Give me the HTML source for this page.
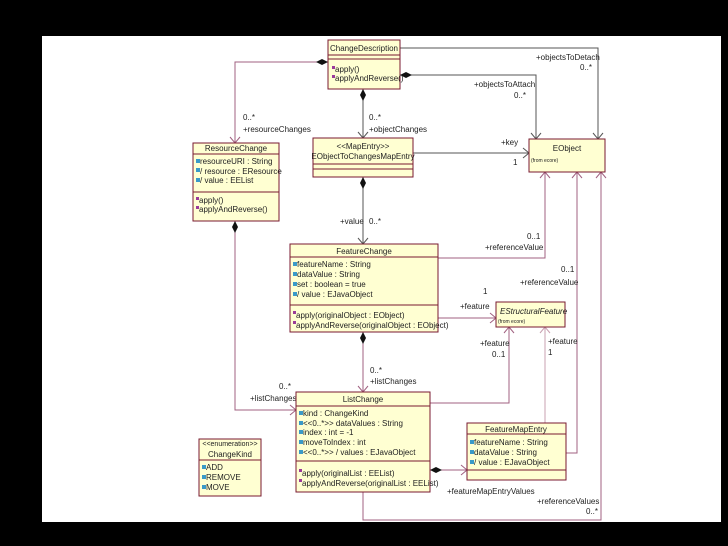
<!DOCTYPE html>
<html><head><meta charset="utf-8"><style>
html,body{margin:0;padding:0;background:#000;}
svg{display:block;}
text{font-family:"Liberation Sans",sans-serif;font-size:8px;fill:#222;}
.t{text-anchor:middle;}
.b{fill:#ffffd2;stroke:#7a1a30;stroke-width:1;}
.s{stroke:#7a1a30;stroke-width:1;}
.l{fill:none;stroke:#555;stroke-width:1;}
.p{fill:none;stroke:#a06080;stroke-width:1;}
.q{fill:none;stroke:#c8a0b0;stroke-width:1;}
.d{fill:#111;}
.a{fill:#3a9ac8;}
.m{fill:#9a3a9a;}
</style></head><body>
<svg width="728" height="546" viewBox="0 0 728 546" xmlns="http://www.w3.org/2000/svg">
<rect x="0" y="0" width="728" height="546" fill="#000"/>
<rect x="42" y="36" width="679" height="486" fill="#fff"/>

<!-- connectors -->
<polyline class="l" points="400,48 598,48 598,139"/>
<polyline class="l" points="593,133 598,139 603,133"/>
<polyline class="l" points="400,75 536,75 536,139"/>
<polyline class="l" points="531,133 536,139 541,133"/>
<polygon class="d" points="400,75 406,72 412,75 406,78"/>
<polyline class="p" points="328,62 235,62 235,143"/>
<polyline class="p" points="230,137 235,143 240,137"/>
<polygon class="d" points="328,62 322,59 316,62 322,65"/>
<polyline class="l" points="363,89 363,138"/>
<polyline class="l" points="358,132 363,138 368,132"/>
<polygon class="d" points="363,89 360,95 363,101 366,95"/>
<polyline class="l" points="413,153 529,153"/>
<polyline class="l" points="523,148 529,153 523,158"/>
<polyline class="l" points="363,177 363,244"/>
<polyline class="l" points="358,238 363,244 368,238"/>
<polygon class="d" points="363,177 360,183 363,189 366,183"/>
<polyline class="p" points="438,258 545,258 545,172"/>
<polyline class="p" points="540,178 545,172 550,178"/>
<polyline class="p" points="566,453 577,453 577,172"/>
<polyline class="p" points="572,178 577,172 582,178"/>
<polyline class="p" points="363,492 363,520 601,520 601,172"/>
<polyline class="p" points="596,178 601,172 606,178"/>
<polyline class="p" points="438,318 496,318"/>
<polyline class="p" points="490,313 496,318 490,323"/>
<polyline class="p" points="430,403 509,403 509,327"/>
<polyline class="p" points="504,333 509,327 514,333"/>
<polyline class="q" points="545,423 545,327"/>
<polyline class="q" points="540,333 545,327 550,333"/>
<polyline class="p" points="363,332 363,392"/>
<polyline class="p" points="358,386 363,392 368,386"/>
<polygon class="d" points="363,332 360,338 363,344 366,338"/>
<polyline class="p" points="235,221 235,410 296,410"/>
<polyline class="p" points="290,405 296,410 290,415"/>
<polygon class="d" points="235,221 232,227 235,233 238,227"/>
<polyline class="p" points="430,470 467,470"/>
<polyline class="p" points="461,465 467,470 461,475"/>
<polygon class="d" points="430,470 436,467 442,470 436,473"/>

<!-- labels -->
<text x="536" y="60">+objectsToDetach</text>
<text x="580" y="70">0..*</text>
<text x="474" y="87">+objectsToAttach</text>
<text x="514" y="98">0..*</text>
<text x="243" y="120">0..*</text>
<text x="243" y="132">+resourceChanges</text>
<text x="369" y="120">0..*</text>
<text x="369" y="132">+objectChanges</text>
<text x="501" y="145">+key</text>
<text x="513" y="165">1</text>
<text x="340" y="224">+value</text>
<text x="369" y="224">0..*</text>
<text x="527" y="239">0..1</text>
<text x="485" y="250">+referenceValue</text>
<text x="561" y="272">0..1</text>
<text x="520" y="285">+referenceValue</text>
<text x="483" y="294">1</text>
<text x="460" y="309">+feature</text>
<text x="480" y="346">+feature</text>
<text x="492" y="357">0..1</text>
<text x="548" y="344">+feature</text>
<text x="548" y="355">1</text>
<text x="370" y="373">0..*</text>
<text x="370" y="384">+listChanges</text>
<text x="279" y="389">0..*</text>
<text x="250" y="401">+listChanges</text>
<text x="447" y="494">+featureMapEntryValues</text>
<text x="537" y="504">+referenceValues</text>
<text x="586" y="514">0..*</text>

<!-- ChangeDescription -->
<rect class="b" x="328" y="40" width="72" height="49"/>
<line class="s" x1="328" y1="55" x2="400" y2="55"/>
<line class="s" x1="328" y1="59" x2="400" y2="59"/>
<text class="t" x="364" y="51">ChangeDescription</text>
<rect class="m" x="332" y="66" width="3" height="3"/><text x="335" y="72">apply()</text>
<rect class="m" x="332" y="75" width="3" height="3"/><text x="335" y="81">applyAndReverse()</text>

<!-- ResourceChange -->
<rect class="b" x="193" y="143" width="86" height="78"/>
<line class="s" x1="193" y1="154" x2="279" y2="154"/>
<line class="s" x1="193" y1="192" x2="279" y2="192"/>
<text class="t" x="236" y="151">ResourceChange</text>
<rect class="a" x="196" y="159" width="4" height="4"/><text x="200" y="164">resourceURI : String</text>
<rect class="a" x="196" y="168" width="4" height="4"/><text x="200" y="174">/ resource : EResource</text>
<rect class="a" x="196" y="178" width="4" height="4"/><text x="200" y="183">/ value : EEList</text>
<rect class="m" x="196" y="197" width="3" height="3"/><text x="199" y="203">apply()</text>
<rect class="m" x="196" y="206" width="3" height="3"/><text x="199" y="212">applyAndReverse()</text>

<!-- EObjectToChangesMapEntry -->
<rect class="b" x="313" y="138" width="100" height="39"/>
<line class="s" x1="313" y1="164" x2="413" y2="164"/>
<line class="s" x1="313" y1="169" x2="413" y2="169"/>
<text class="t" x="363" y="149">&lt;&lt;MapEntry&gt;&gt;</text>
<text class="t" x="363" y="159">EObjectToChangesMapEntry</text>

<!-- EObject -->
<rect class="b" x="529" y="139" width="76" height="33"/>
<text class="t" x="567" y="151">EObject</text>
<text x="531" y="162" style="font-size:5px">(from ecore)</text>

<!-- FeatureChange -->
<rect class="b" x="290" y="244" width="148" height="88"/>
<line class="s" x1="290" y1="257" x2="438" y2="257"/>
<line class="s" x1="290" y1="305" x2="438" y2="305"/>
<text class="t" x="364" y="254">FeatureChange</text>
<rect class="a" x="293" y="262" width="4" height="4"/><text x="297" y="267">featureName : String</text>
<rect class="a" x="293" y="272" width="4" height="4"/><text x="297" y="277">dataValue : String</text>
<rect class="a" x="293" y="282" width="4" height="4"/><text x="297" y="287">set : boolean = true</text>
<rect class="a" x="293" y="292" width="4" height="4"/><text x="297" y="297">/ value : EJavaObject</text>
<rect class="m" x="293" y="311" width="3" height="3"/><text x="296" y="318">apply(originalObject : EObject)</text>
<rect class="m" x="293" y="321" width="3" height="3"/><text x="296" y="328">applyAndReverse(originalObject : EObject)</text>

<!-- EStructuralFeature -->
<rect class="b" x="496" y="302" width="69" height="25"/>
<text x="500" y="314" style="font-style:italic">EStructuralFeature</text>
<text x="498" y="323" style="font-size:5px">(from ecore)</text>

<!-- ListChange -->
<rect class="b" x="296" y="392" width="134" height="100"/>
<line class="s" x1="296" y1="406" x2="430" y2="406"/>
<line class="s" x1="296" y1="461" x2="430" y2="461"/>
<text class="t" x="363" y="402">ListChange</text>
<rect class="a" x="299" y="411" width="4" height="4"/><text x="303" y="416">kind : ChangeKind</text>
<rect class="a" x="299" y="421" width="4" height="4"/><text x="303" y="426">&lt;&lt;0..*&gt;&gt; dataValues : String</text>
<rect class="a" x="299" y="430" width="4" height="4"/><text x="303" y="435">index : int = -1</text>
<rect class="a" x="299" y="440" width="4" height="4"/><text x="303" y="445">moveToIndex : int</text>
<rect class="a" x="299" y="450" width="4" height="4"/><text x="303" y="455">&lt;&lt;0..*&gt;&gt; / values : EJavaObject</text>
<rect class="m" x="299" y="469" width="3" height="3"/><text x="302" y="476">apply(originalList : EEList)</text>
<rect class="m" x="299" y="479" width="3" height="3"/><text x="302" y="486">applyAndReverse(originalList : EEList)</text>

<!-- FeatureMapEntry -->
<rect class="b" x="467" y="423" width="99" height="57"/>
<line class="s" x1="467" y1="434" x2="566" y2="434"/>
<line class="s" x1="467" y1="470" x2="566" y2="470"/>
<text class="t" x="516" y="432">FeatureMapEntry</text>
<rect class="a" x="470" y="440" width="4" height="4"/><text x="474" y="445">featureName : String</text>
<rect class="a" x="470" y="450" width="4" height="4"/><text x="474" y="455">dataValue : String</text>
<rect class="a" x="470" y="460" width="4" height="4"/><text x="474" y="465">/ value : EJavaObject</text>

<!-- ChangeKind -->
<rect class="b" x="199" y="439" width="62" height="57"/>
<line class="s" x1="199" y1="460" x2="261" y2="460"/>
<text class="t" x="230" y="446" style="font-size:7px">&lt;&lt;enumeration&gt;&gt;</text>
<text class="t" x="230" y="457">ChangeKind</text>
<rect class="a" x="202" y="465" width="4" height="4"/><text x="206" y="470">ADD</text>
<rect class="a" x="202" y="475" width="4" height="4"/><text x="206" y="480">REMOVE</text>
<rect class="a" x="202" y="485" width="4" height="4"/><text x="206" y="490">MOVE</text>
</svg>
</body></html>
